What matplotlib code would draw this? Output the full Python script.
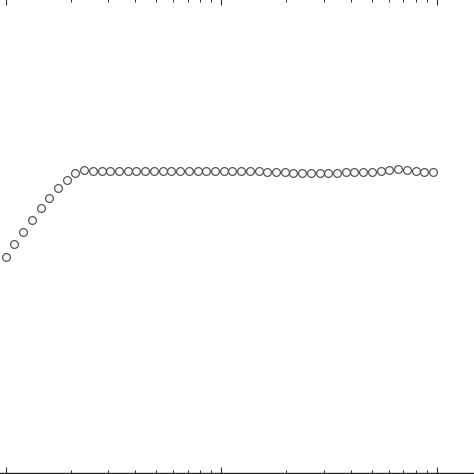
import matplotlib
matplotlib.use("Agg")
import matplotlib.pyplot as plt

x_values = [1.000, 1.098, 1.205, 1.322, 1.451, 1.593, 1.749, 1.919, 2.107, 2.313,
            2.539, 2.787, 3.059, 3.357, 3.686, 4.045, 4.441, 4.874, 5.350, 5.872,
            6.446, 7.074, 7.766, 8.524, 9.354, 10.27, 11.27, 12.37, 13.58, 14.90,
            16.36, 17.96, 19.71, 21.63, 23.75, 26.07, 28.61, 31.41, 34.47, 37.84,
            41.53, 45.60, 50.04, 54.93, 60.29, 66.18, 72.65, 79.74, 87.53, 96.05]
y_values = [0.455, 0.482, 0.507, 0.533, 0.557, 0.580, 0.600, 0.617, 0.631, 0.638,
            0.637, 0.636, 0.636, 0.636, 0.636, 0.636, 0.636, 0.636, 0.636, 0.636,
            0.636, 0.636, 0.636, 0.636, 0.636, 0.636, 0.636, 0.636, 0.636, 0.636,
            0.635, 0.634, 0.633, 0.632, 0.631, 0.631, 0.631, 0.632, 0.632, 0.633,
            0.634, 0.634, 0.635, 0.636, 0.639, 0.640, 0.638, 0.636, 0.635, 0.635]

W = H = 474
fig = plt.figure(figsize=(W / 100, H / 100), dpi=100)
# axes extends slightly beyond the visible crop
L, R = -4.2, 480.7
B_top = 472.5   # bottom spine, pixels from top
T_top = -1.5
ax = fig.add_axes([L / W, (H - B_top) / H, (R - L) / W, (B_top - T_top) / H])
ax.set_xscale("log")
ax.set_xlim(0.9, 160)
ax.set_ylim(0, 1)

ax.plot(x_values, y_values, linestyle="none", marker="o", markersize=5.6,
        markerfacecolor="none", markeredgecolor="#555555", markeredgewidth=0.9)

for s in ax.spines.values():
    s.set_color("#222222")
    s.set_linewidth(1.0)

ax.tick_params(axis="x", which="both", direction="in", top=True, bottom=True,
               labelbottom=False, labeltop=False, color="#333333")
ax.tick_params(axis="x", which="major", length=4.0, width=0.8)
ax.tick_params(axis="x", which="minor", length=2.3, width=0.7)
ax.set_yticks([])

fig.savefig("out.png", dpi=100)
